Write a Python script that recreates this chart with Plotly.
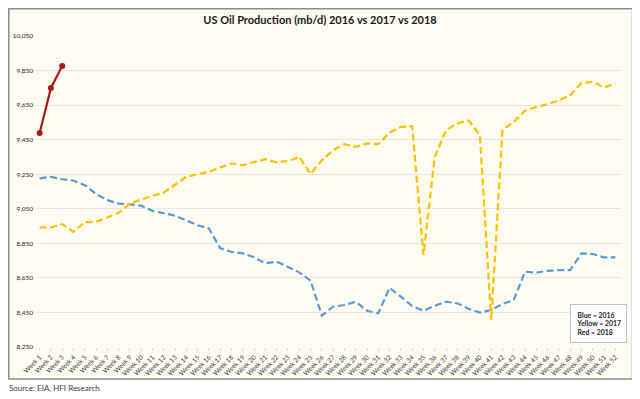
import plotly.graph_objects as go

weeks = [f"Week {i}" for i in range(1, 53)]

prod_2016 = [9226, 9235, 9221, 9213, 9187, 9135, 9100, 9080, 9076, 9068,
             9038, 9023, 9010, 8982, 8955, 8936, 8821, 8801, 8792, 8769,
             8734, 8744, 8714, 8682, 8633, 8432, 8483, 8493, 8512, 8460,
             8445, 8593, 8541, 8487, 8460, 8489, 8512, 8503, 8471, 8449,
             8464, 8499, 8522, 8686, 8680, 8691, 8695, 8695, 8792, 8788,
             8769, 8769]

prod_2017 = [8942, 8942, 8961, 8917, 8973, 8975, 9000, 9027, 9081, 9104,
             9125, 9144, 9190, 9235, 9250, 9264, 9289, 9312, 9302, 9318,
             9337, 9318, 9327, 9350, 9252, 9331, 9389, 9424, 9408, 9428,
             9424, 9491, 9524, 9528, 8782, 9350, 9505, 9543, 9561, 9476,
             8406, 9505, 9553, 9617, 9640, 9655, 9678, 9707, 9778, 9784,
             9752, 9775]

prod_2018 = [9489, 9749, 9876]

y_ticks = list(range(8250, 10051, 200))
y_tick_labels = [f"{v:,}" for v in y_ticks]

# page offset of the plot div (default body margin)
OFF = 8
W, H = 640 - OFF, 399 - OFF
# target plot area in screen pixels: x 34.4..620.6, y 35.7..347
L, T = 34 - OFF, 36 - OFF
R, B = 640 - 621, 399 - 347
PW, PH = W - L - R, H - T - B


def px(sx):
    return (sx - OFF - L) / PW


def py(sy):
    return (H - B - (sy - OFF)) / PH


cream = "#FEFBF1"

fig = go.Figure()
fig.add_trace(go.Scatter(x=weeks, y=prod_2016, mode="lines",
                         line=dict(color="#5B9BD5", width=2.2, dash="7px,3.5px"),
                         showlegend=False))
fig.add_trace(go.Scatter(x=weeks, y=prod_2017, mode="lines",
                         line=dict(color="#FFC000", width=2.2, dash="7px,3.5px"),
                         showlegend=False))
fig.add_trace(go.Scatter(x=weeks[:len(prod_2018)], y=prod_2018, mode="lines+markers",
                         line=dict(color="#B01515", width=2.2),
                         marker=dict(color="#B01515", size=6),
                         showlegend=False))

fig.update_layout(
    width=W, height=H,
    margin=dict(l=L, r=R, t=T, b=B, autoexpand=False),
    paper_bgcolor="white",
    plot_bgcolor=cream,
    title=dict(text="<b>US Oil Production (mb/d) 2016 vs 2017 vs 2018</b>",
               x=(320 - OFF) / W, xref="container", xanchor="center",
               y=1 - (20 - OFF) / H, yref="container", yanchor="middle",
               font=dict(family="Lato, Open Sans, sans-serif", size=11, color="#1a1a1a")),
    xaxis=dict(type="category", categoryorder="array", categoryarray=weeks,
               range=[-0.5, len(weeks) - 0.5],
               tickangle=-45, showgrid=False, automargin=False,
               tickfont=dict(family="Lato, sans-serif", size=6.5, color="#404040"),
               ticks="outside", ticklen=3, tickcolor="#d9d9d9",
               showline=False, zeroline=False),
    yaxis=dict(range=[8250, 10050], tickvals=y_ticks, ticktext=y_tick_labels,
               showgrid=True, gridcolor="#E6E6E6", gridwidth=1, automargin=False,
               tickfont=dict(family="Lato, sans-serif", size=6.5, color="#262626"),
               zeroline=False, showline=False),
    shapes=[dict(type="rect", xref="paper", yref="paper",
                 x0=px(8.8), x1=px(632.5), y0=py(379), y1=py(8.8),
                 fillcolor=cream, line=dict(color="#8c8c8c", width=1.5),
                 layer="below")],
    annotations=[
        dict(text="<b>Blue = 2016<br>Yellow = 2017<br>Red = 2018</b>",
             xref="paper", yref="paper", x=px(570), y=py(304),
             xanchor="left", yanchor="top", align="left", showarrow=False,
             font=dict(family="Lato, sans-serif", size=6.9, color="#1a1a1a"),
             bgcolor="white", bordercolor="#BFBFBF", borderwidth=1,
             borderpad=5.5),
        dict(text="Source: EIA, HFI Research",
             xref="paper", yref="paper", x=px(7), y=py(388),
             xanchor="left", yanchor="middle", showarrow=False,
             font=dict(family="Lato, sans-serif", size=8, color="#404040")),
    ],
)

fig.write_html("out.html")
